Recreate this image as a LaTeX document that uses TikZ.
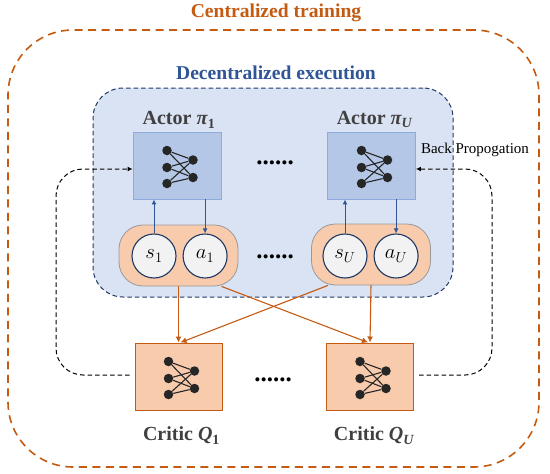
\documentclass[tikz,border=0pt]{standalone}
\usepackage{fontspec}
\setmainfont{Liberation Serif}
\usetikzlibrary{arrows.meta,positioning}

\definecolor{outerorange}{HTML}{C55A11}
\definecolor{titleblue}{HTML}{2F5597}
\definecolor{panelblue}{HTML}{DAE3F3}
\definecolor{actorblue}{HTML}{B4C7E7}
\definecolor{actoredge}{HTML}{8FAADC}
\definecolor{peach}{HTML}{F8CBAD}
\definecolor{navy}{HTML}{1F3864}
\definecolor{inkgrey}{HTML}{404040}

\begin{document}
\begin{tikzpicture}[
    x=1pt,y=-1pt,
    node distance=8pt and 6pt,
    title/.style={font=\fontsize{19.6}{22}\selectfont\bfseries},
    label/.style={font=\fontsize{20}{22}\selectfont\bfseries,text=inkgrey},
    actorbox/.style={draw=actoredge,fill=actorblue,line width=0.9pt,minimum width=88pt,minimum height=67pt,inner sep=0pt},
    criticbox/.style={draw=outerorange,fill=peach,line width=1pt,minimum width=87pt,minimum height=67pt,inner sep=0pt},
    pill/.style={draw=black!40,fill=peach,rounded corners=24pt,line width=0.8pt,minimum width=119pt,minimum height=61pt,inner sep=0pt},
    state/.style={circle,draw=navy,fill=white!95!black,line width=1.1pt,minimum size=44pt,inner sep=0pt,font=\fontsize{21}{24}\selectfont},
    dotsnode/.style={font=\fontsize{25}{25}\selectfont\bfseries,inner sep=0pt},
    neuron/.style={circle,fill=black!85,minimum size=9.5pt,inner sep=0pt},
    bluearrow/.style={-{Latex[length=5pt,width=5pt]},draw=titleblue,line width=1pt},
    orangearrow/.style={-{Latex[length=6pt,width=6pt]},draw=outerorange,line width=1.1pt},
    backprop/.style={draw=black,dash pattern=on 4.5pt off 3pt,line width=1pt,rounded corners=27pt},
    net/.pic={
        \node[neuron] (l1) at (-10,-15) {};
        \node[neuron] (l2) at (-10,2) {};
        \node[neuron] (l3) at (-10,18) {};
        \node[neuron] (r1) at (16,-5.5) {};
        \node[neuron] (r2) at (16,12) {};
        \foreach \a in {l1,l2,l3}
            \foreach \b in {r1,r2}
                \draw[line width=1.1pt,black!85] (\a) -- (\b);
    }
]
\useasboundingbox (0,0) rectangle (550,474);

% outer and inner panels
\node[draw=outerorange,dash pattern=on 8pt off 5.5pt,line width=1.6pt,rounded corners=65pt,minimum width=531pt,minimum height=437pt,inner sep=0pt] (train) at (273.5,248.5) {};
\node[draw=navy,dash pattern=on 4.5pt off 3pt,fill=panelblue,line width=1pt,rounded corners=30pt,minimum width=360pt,minimum height=209pt,inner sep=0pt] (exec) at (273,192.5) {};

\node[title,text=outerorange] (traintitle) at (276,13) {Centralized training};
\node[title,text=titleblue] (exectitle) at (276,73) {Decentralized execution};

% actors
\node[actorbox] (actor1) at (177,165.5) {};
\node[actorbox] (actorU) at (371.5,165.5) {};
\pic (netA1) at (actor1.center) {net};
\pic (netAU) at (actorU.center) {net};
\node[label,above=0pt of actor1,xshift=2pt] (actor1label) {Actor \textit{π}\textsubscript{1}};
\node[label,above=0pt of actorU,xshift=3pt] (actorUlabel) {Actor \textit{π\textsubscript{U}}};
\node[dotsnode] (dotsA) at (275,163) {......};

% state and action pills
\node[pill] (pill1) at (178.5,255.5) {};
\node[pill] (pillU) at (371,254.5) {};
\node[state] (s1) at (154,256) {$s_1$};
\node[state,right=6pt of s1] (a1) {$a_1$};
\node[state] (sU) at (345,256) {$s_U$};
\node[state,right=6pt of sU] (aU) {$a_U$};
\node[dotsnode] (dotsP) at (275,257) {......};

% critics
\node[criticbox] (critic1) at (178.5,376.5) {};
\node[criticbox] (criticU) at (370,376.5) {};
\pic (netC1) at (critic1.center) {net};
\pic (netCU) at (criticU.center) {net};
\node[label,below=13pt of critic1,xshift=3pt] (critic1label) {Critic \textit{Q}\textsubscript{1}};
\node[label,below=13pt of criticU,xshift=4pt] (criticUlabel) {Critic \textit{Q\textsubscript{U}}};
\node[dotsnode] (dotsC) at (273,380) {......};

% actor <-> state/action
\draw[bluearrow] (s1.north) -- (s1.north |- actor1.south);
\draw[bluearrow] (a1.north |- actor1.south) -- (a1.north);
\draw[bluearrow] (sU.north) -- (sU.north |- actorU.south);
\draw[bluearrow] (aU.north |- actorU.south) -- (aU.north);

% pills to critics
\draw[orangearrow] (pill1.south) -- (critic1.north);
\draw[orangearrow] ([xshift=43pt]pill1.south) -- ([xshift=-2pt]criticU.north);
\draw[orangearrow] ([xshift=-43pt]pillU.south) -- ([xshift=2pt]critic1.north);
\draw[orangearrow] (pillU.south) -- (criticU.north);

% back propagation
\coordinate (bendL) at (56,270);
\coordinate (bendR) at (492,270);
\draw[backprop,-{Latex[length=5pt,width=5pt]}] ([xshift=-5pt,yshift=1.5pt]critic1.west) -| (bendL) |- ([yshift=-3.5pt]actor1.west);
\draw[backprop,-{Latex[length=5pt,width=5pt]}] ([xshift=5pt,yshift=1.5pt]criticU.east) -| (bendR) |- ([yshift=-3.5pt]actorU.east);
\node[font=\fontsize{15}{17}\selectfont] (backlabel) at (475,150) {Back Propogation};

\end{tikzpicture}
\end{document}
